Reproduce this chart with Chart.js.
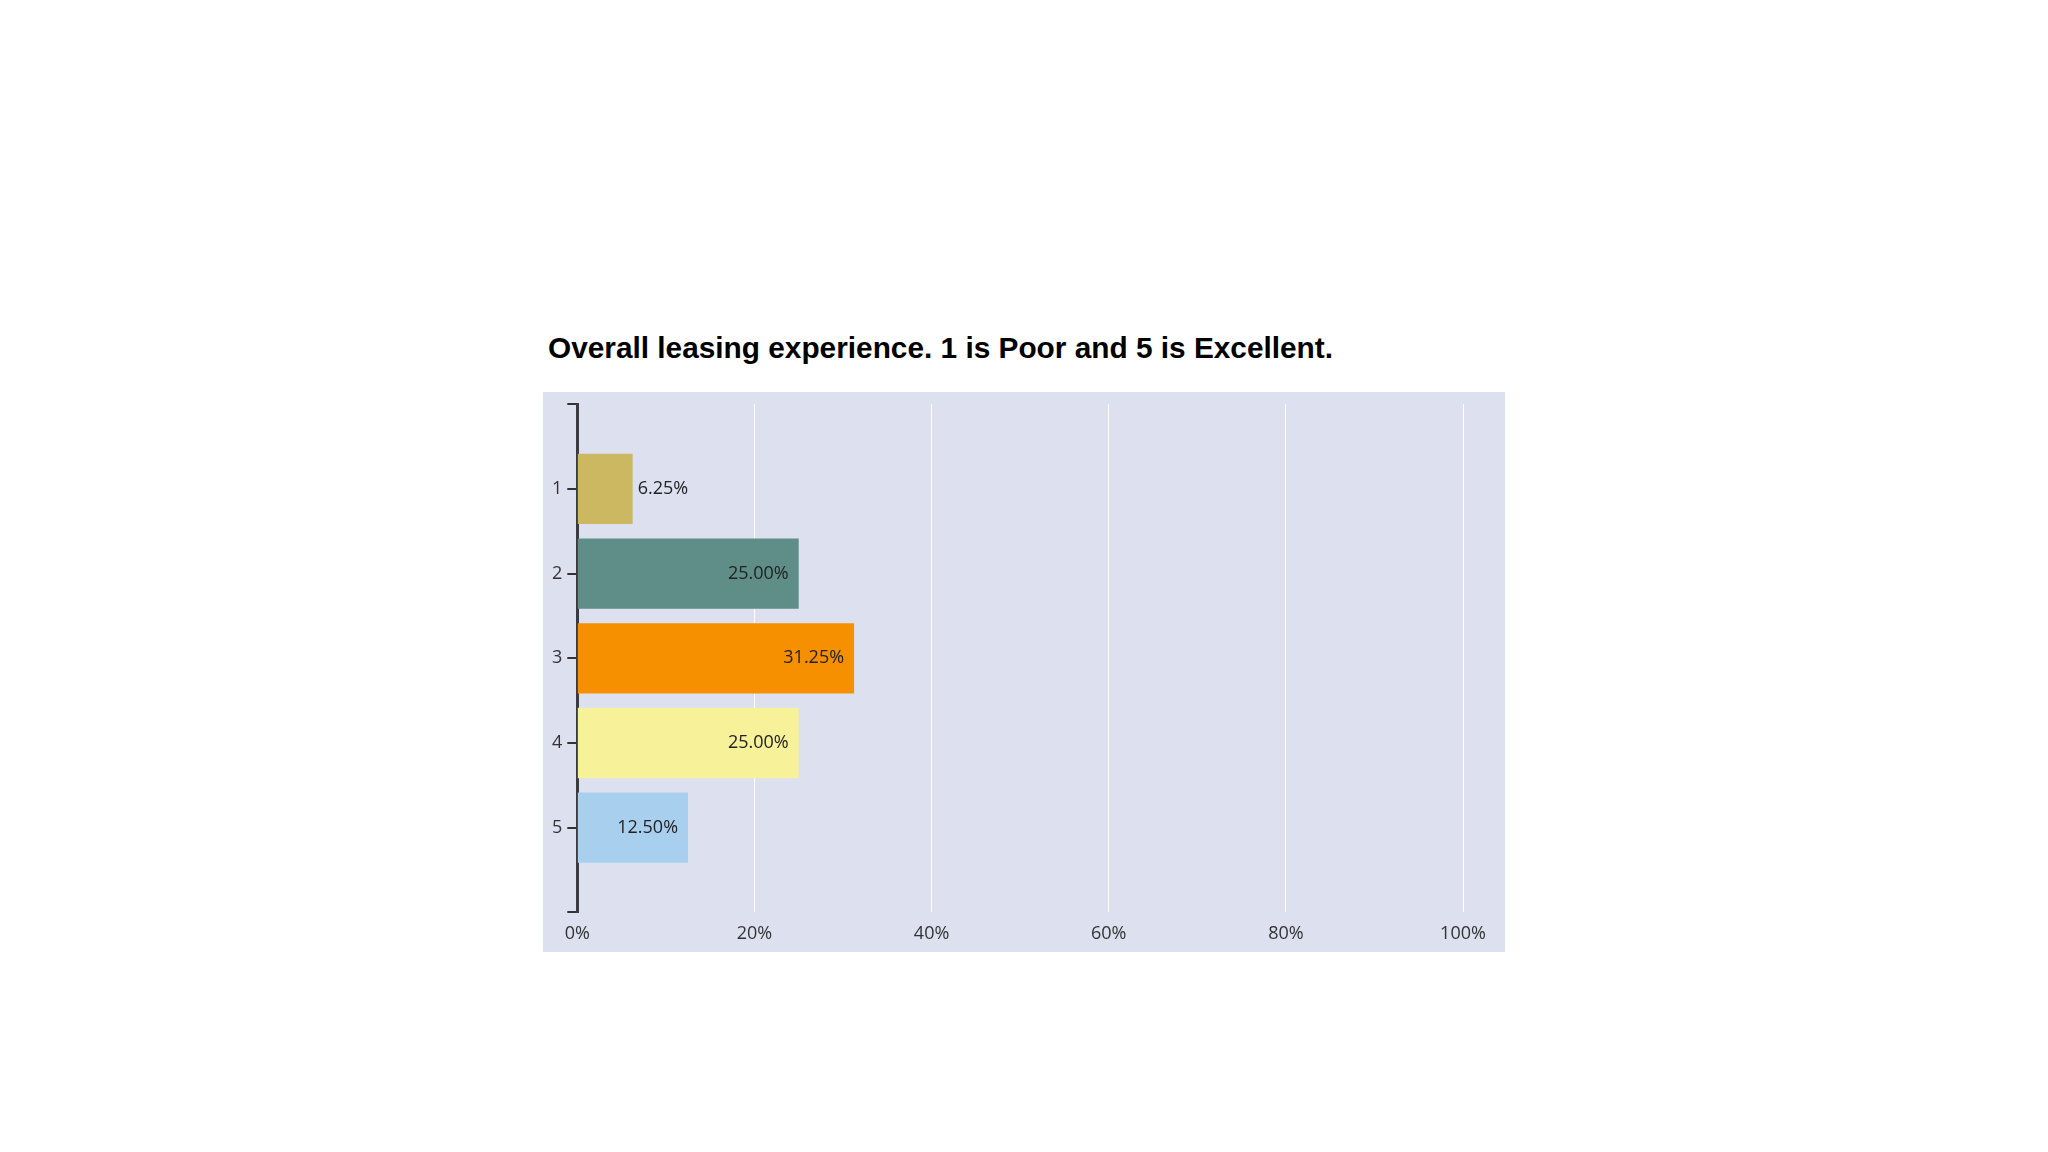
<!DOCTYPE html>
<html>
<head>
<meta charset="utf-8">
<script src="https://cdn.jsdelivr.net/npm/chart.js@4"></script>
<style>
  html, body { margin: 0; padding: 0; background: #fff; }
  body { width: 2048px; height: 1152px; position: relative; overflow: hidden; }
  #title {
    position: absolute; left: 548px; top: 330px;
    font-family: "Liberation Sans", Arial, sans-serif; font-weight: bold;
    font-size: 29.8px; color: #000; white-space: nowrap; line-height: 36px;
  }
  #box {
    position: absolute; left: 543px; top: 392px; width: 962px; height: 560px;
    background: #dce0ef;
  }
</style>
</head>
<body>
<div id="title">Overall leasing experience. 1 is Poor and 5 is Excellent.</div>
<div id="box"><canvas id="chart"></canvas></div>
<script>
const categories = ["1", "2", "3", "4", "5"];
const percentValues = [6.25, 25.0, 31.25, 25.0, 12.5];
const barColors = ["#cdb862", "#5f8e89", "#f79000", "#f7f29a", "#a8d0ee"];
const xTickValues = [0, 20, 40, 60, 80, 100];

// blank slot above and below so the axis runs one step past 1 and 5
const labels = [""].concat(categories, [""]);
const data = [null].concat(percentValues, [null]);
const colors = ["transparent"].concat(barColors, ["transparent"]);

const valueLabels = {
  id: "valueLabels",
  afterDatasetsDraw(chart) {
    const ctx = chart.ctx;
    const meta = chart.getDatasetMeta(0);
    ctx.save();
    ctx.font = '18px "Open Sans", sans-serif';
    ctx.fillStyle = "#222";
    ctx.textBaseline = "middle";
    meta.data.forEach(function (bar, i) {
      const v = data[i];
      if (v === null) return;
      const text = v.toFixed(2) + "%";
      const w = ctx.measureText(text).width;
      if (bar.x - bar.base > w + 20) {
        ctx.textAlign = "right";
        ctx.fillText(text, bar.x - 10, bar.y);
      } else {
        ctx.textAlign = "left";
        ctx.fillText(text, bar.x + 5, bar.y);
      }
    });
    ctx.restore();
  },
};

new Chart(document.getElementById("chart").getContext("2d"), {
  type: "bar",
  data: {
    labels: labels,
    datasets: [
      {
        data: data,
        backgroundColor: colors,
        borderWidth: 0,
        categoryPercentage: 1,
        barPercentage: 0.83,
      },
    ],
  },
  options: {
    indexAxis: "y",
    responsive: true,
    maintainAspectRatio: false,
    animation: false,
    layout: { padding: { left: 4, right: 42, top: 12, bottom: -4 } },
    plugins: {
      legend: { display: false },
      tooltip: { enabled: false },
    },
    scales: {
      x: {
        min: 0,
        max: 100,
        afterBuildTicks: function (axis) {
          axis.ticks = xTickValues.map(function (v) { return { value: v }; });
        },
        grid: { color: "#ffffff", lineWidth: 1, drawTicks: false },
        border: { display: false },
        ticks: {
          padding: 11,
          color: "#333",
          font: { family: "Open Sans", size: 18 },
          callback: function (v) { return v + "%"; },
        },
      },
      y: {
        offset: false,
        grid: {
          offset: false,
          drawOnChartArea: false,
          drawTicks: true,
          tickLength: 10,
          color: "#333",
          lineWidth: 2,
        },
        border: { display: true, color: "#3a3a40", width: 3 },
        ticks: {
          padding: 5,
          color: "#333",
          font: { family: "Open Sans", size: 18, lineHeight: 0.8 },
          autoSkip: false,
        },
      },
    },
  },
  plugins: [valueLabels],
});
</script>
</body>
</html>
